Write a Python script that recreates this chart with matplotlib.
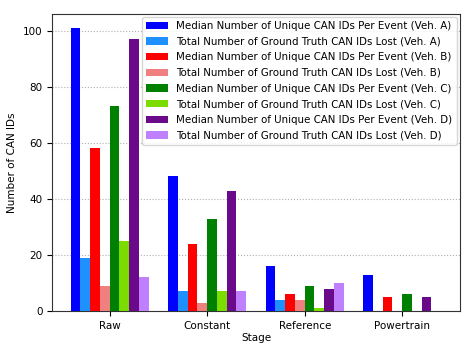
import matplotlib
matplotlib.use("Agg")
import matplotlib.pyplot as plt
import numpy as np

stages = ["Raw", "Constant", "Reference", "Powertrain"]
series_labels = [
    "Median Number of Unique CAN IDs Per Event (Veh. A)",
    "Total Number of Ground Truth CAN IDs Lost (Veh. A)",
    "Median Number of Unique CAN IDs Per Event (Veh. B)",
    "Total Number of Ground Truth CAN IDs Lost (Veh. B)",
    "Median Number of Unique CAN IDs Per Event (Veh. C)",
    "Total Number of Ground Truth CAN IDs Lost (Veh. C)",
    "Median Number of Unique CAN IDs Per Event (Veh. D)",
    "Total Number of Ground Truth CAN IDs Lost (Veh. D)",
]
med_a = [101, 48, 16, 13]
lost_a = [19, 7, 4, 0]
med_b = [58, 24, 6, 5]
lost_b = [9, 3, 4, 0]
med_c = [73, 33, 9, 6]
lost_c = [25, 7, 1, 0]
med_d = [97, 43, 8, 5]
lost_d = [12, 7, 10, 0]
series = [med_a, lost_a, med_b, lost_b, med_c, lost_c, med_d, lost_d]
colors = ["#0000ff", "#1e90ff", "#ff0000", "#f08080",
          "#008000", "#7cdc00", "#6a0a8a", "#bf80ff"]

plt.rcParams['font.family'] = ['DejaVu Sans']
fig = plt.figure(figsize=(4.74, 3.55), dpi=100)
ax = fig.add_axes([0.110, 0.124, 0.860, 0.837])

x = np.arange(len(stages))
w = 0.1
for i, (vals, lab, c) in enumerate(zip(series, series_labels, colors)):
    ax.bar(x + (i - 3.5) * w, vals, w, label=lab, color=c, zorder=3)

ax.set_xticks(x)
ax.set_xticklabels(stages, fontsize=7.5)
ax.tick_params(axis='y', labelsize=7.5)
ax.set_xlabel("Stage", fontsize=7.5, labelpad=2)
ax.set_ylabel("Number of CAN IDs", fontsize=7.5)
ax.yaxis.grid(True, linestyle=':', color='#b0b0b0', linewidth=0.8, zorder=0)
ax.set_axisbelow(True)
for s in ax.spines.values():
    s.set_color('#333333')
ax.legend(loc='upper right', fontsize=7.4, handlelength=2.2, labelspacing=0.55,
          borderaxespad=0.3, framealpha=0.8)
fig.savefig("out.png", dpi=100)
